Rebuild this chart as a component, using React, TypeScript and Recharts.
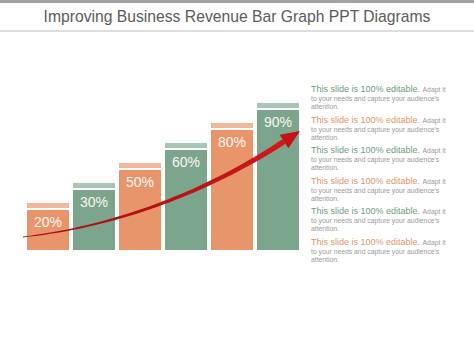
import { BarChart, Bar, XAxis, YAxis, LabelList, Cell } from 'recharts';

const stages = ['Stage 1', 'Stage 2', 'Stage 3', 'Stage 4', 'Stage 5', 'Stage 6'];
const levels = [2, 3, 4, 5, 6, 7];
const percentLabels = ['20%', '30%', '50%', '60%', '80%', '90%'];

const noteHeading = 'This slide is 100% editable.';
const noteLead = 'Adapt it';
const noteBody = ["to your needs and capture your audience's", 'attention.'];
const noteCount = 6;

const ORANGE = { body: '#e8956b', cap: '#f0b99c' };
const GREEN = { body: '#7ba58c', cap: '#a9c5b4' };
const PALETTE = [ORANGE, GREEN];
const NOTE_COLORS = ['#6f9b81', '#e0956b'];

const data = stages.map((name, i) => ({ name, value: levels[i], label: percentLabels[i] }));

// body + thin cap sitting 2px above it
function CappedBar(props: any) {
  const { x, y, width, height, index } = props;
  const c = PALETTE[index % 2];
  return (
    <g>
      <rect x={x} y={y - 7} width={width} height={5} fill={c.cap} />
      <rect x={x} y={y} width={width} height={height} fill={c.body} />
    </g>
  );
}

// tapered red growth arrow laid over the bars
function buildArrow() {
  const p0 = [23, 237], p1 = [120, 226], p2 = [210, 190], p3 = [284, 141.5];
  const pt = (t: number) => {
    const a = (1 - t) ** 3, b = 3 * (1 - t) ** 2 * t, c = 3 * (1 - t) * t * t, d = t ** 3;
    return [a * p0[0] + b * p1[0] + c * p2[0] + d * p3[0], a * p0[1] + b * p1[1] + c * p2[1] + d * p3[1]];
  };
  const upper: string[] = [];
  const lower: string[] = [];
  const n = 40;
  for (let i = 0; i <= n; i++) {
    const t = i / n;
    const [x, y] = pt(t);
    const [x2, y2] = pt(Math.min(1, t + 0.01));
    const [x1, y1] = pt(Math.max(0, t - 0.01));
    const dx = x2 - x1, dy = y2 - y1;
    const len = Math.hypot(dx, dy) || 1;
    const nx = -dy / len, ny = dx / len;
    const w = 0.4 + 2.4 * t;
    upper.push(`${(x - nx * w).toFixed(1)},${(y - ny * w).toFixed(1)}`);
    lower.unshift(`${(x + nx * w).toFixed(1)},${(y + ny * w).toFixed(1)}`);
  }
  const tip = [300, 131];
  const ux = tip[0] - p3[0], uy = tip[1] - p3[1];
  const ul = Math.hypot(ux, uy);
  const px = -uy / ul, py = ux / ul;
  const hw = 8;
  const head = `${(p3[0] - px * hw).toFixed(1)},${(p3[1] - py * hw).toFixed(1)} ${tip[0]},${tip[1]} ${(p3[0] + px * hw).toFixed(1)},${(p3[1] + py * hw).toFixed(1)}`;
  return { body: `M${upper.join(' L')} L${lower.join(' L')} Z`, head };
}

const arrow = buildArrow();

export default function App() {
  return (
    <div
      style={{
        position: 'absolute', left: 0, top: 0, width: 474, height: 355,
        background: '#fff', fontFamily: '"Liberation Sans", Arial, sans-serif', overflow: 'hidden',
      }}
    >
      <div style={{ position: 'absolute', left: 0, top: 0, width: 474, height: 3, background: '#a3a3a3' }} />
      <div
        style={{
          position: 'absolute', left: 0, top: 7, width: 474, textAlign: 'center',
          fontSize: 15.7, lineHeight: '20px', color: '#5b5b5b',
        }}
      >
        Improving Business Revenue Bar Graph PPT Diagrams
      </div>
      <div style={{ position: 'absolute', left: 0, top: 30, width: 474, height: 2, background: '#dedede' }} />

      <div style={{ position: 'absolute', left: 0, top: 0 }}>
        <BarChart width={474} height={355} data={data} margin={{ top: 90, right: 173, bottom: 105, left: 25 }} barCategoryGap={2}>
          <XAxis dataKey="name" hide />
          <YAxis hide domain={[0, 8]} />
          <Bar dataKey="value" isAnimationActive={false} shape={<CappedBar />}>
            {data.map((_, i) => (
              <Cell key={`c-${i}`} fill={PALETTE[i % 2].body} />
            ))}
            <LabelList dataKey="label" position="insideTop" offset={7} fill="#fbf6f2" fontSize={14} />
          </Bar>
        </BarChart>
      </div>

      <svg width={474} height={355} style={{ position: 'absolute', left: 0, top: 0, pointerEvents: 'none' }}>
        <defs>
          <linearGradient id="arrowRed" x1="0" y1="0" x2="0" y2="1">
            <stop offset="0%" stopColor="#d41a1a" />
            <stop offset="100%" stopColor="#a80d10" />
          </linearGradient>
        </defs>
        <path d={arrow.body} fill="url(#arrowRed)" />
        <polygon points={arrow.head} fill="#c41215" />
      </svg>

      {Array.from({ length: noteCount }).map((_, i) => (
        <div key={i} style={{ position: 'absolute', left: 311, top: 84.3 + i * 30.5, width: 160, whiteSpace: 'nowrap' }}>
          <div style={{ fontSize: 9, lineHeight: '11px', color: NOTE_COLORS[i % 2] }}>
            {noteHeading} <span style={{ fontSize: 6.8, color: '#9a9a9a' }}>{noteLead}</span>
          </div>
          {noteBody.map((line) => (
            <div key={line} style={{ fontSize: 6.8, lineHeight: '8px', color: '#9a9a9a' }}>{line}</div>
          ))}
        </div>
      ))}
    </div>
  );
}
